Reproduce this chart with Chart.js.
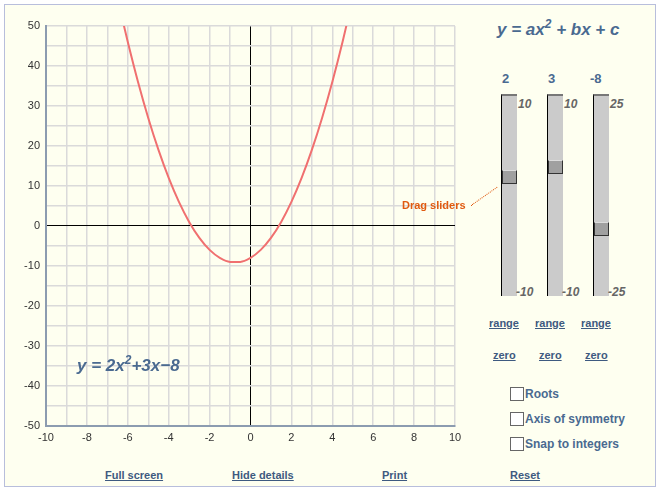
<!DOCTYPE html>
<html><head><meta charset="utf-8">
<script src="https://cdn.jsdelivr.net/npm/chart.js@4"></script>
<style>
body{margin:0;background:#fff;font-family:"Liberation Sans",Arial,sans-serif;}
#wrap{position:absolute;left:4px;top:4px;width:650px;height:481px;background:#fefff0;border:1px solid #b8bedc;}
#c{position:absolute;left:-4px;top:-4px;}
.t{position:absolute;color:#4a6a90;font-weight:bold;white-space:nowrap;}
.lnk{position:absolute;color:#3e5a80;font-weight:bold;font-size:11px;text-decoration:underline;}
.track{position:absolute;width:15px;height:200px;background:#cbcbcb;border-left:1px solid #000;border-top:2px solid #777;}
.handle{position:absolute;width:13px;height:12px;background:#a0a0a0;border:1px solid #333;border-top-color:#ddd;}
.lab{position:absolute;font-style:italic;font-weight:bold;font-size:12px;color:#666;}
.cb{position:absolute;width:12px;height:12px;border:1px solid #666;background:#fff;}
</style></head><body>
<div id="wrap"><canvas id="c" width="470" height="450"></canvas></div>
<script>
const xs=[-6.2,-6,-5.5,-5,-4.5,-4,-3.5,-3,-2.5,-2,-1.5,-1,-0.5,0,0.5,1,1.5,2,2.5,3,3.5,4,4.5,5];
const ys=[50.3,46,36,27,19,12,6,1,-3,-6,-8,-9,-9,-8,-6,-3,1,6,12,19,27,36,46,57];
const coefNames=['a','b','c'];
const coefVals=[2,3,-8];
const coefMax=[10,10,25];
const coefMin=[-10,-10,-25];
const xTicks=[-10,-8,-6,-4,-2,0,2,4,6,8,10];
const yTicks=[-50,-40,-30,-20,-10,0,10,20,30,40,50];

const grid={color:c=>c.tick.value===0?'#000':'#dadada',lineWidth:c=>c.tick.value===0?1:1.5,drawTicks:false};
new Chart(document.getElementById('c'),{
 type:'scatter',
 data:{datasets:[{data:xs.map((x,i)=>({x,y:ys[i]})),showLine:true,borderColor:'#f07070',borderWidth:2,pointRadius:0,cubicInterpolationMode:'monotone',clip:0}]},
 options:{responsive:false,animation:false,
  layout:{padding:{left:5,top:25,right:16,bottom:0}},
  plugins:{legend:{display:false},tooltip:{enabled:false}},
  scales:{
   x:{min:-10,max:10,border:{color:'#8c9cb0',width:2},
      ticks:{stepSize:1,padding:6,color:'#333',font:{size:11,family:'Liberation Sans'},maxRotation:0,autoSkip:false,
        callback:v=>xTicks.includes(v)?String(v):''},grid},
   y:{min:-50,max:50,border:{color:'#8c9cb0',width:2},afterFit:s=>{s.width=40;},
      ticks:{stepSize:5,padding:6,color:'#333',font:{size:11,family:'Liberation Sans'},autoSkip:false,
        callback:v=>yTicks.includes(v)?String(v):''},grid}
  }}
});

const w=document.getElementById('wrap');
function add(cls,html,l,t,extra){const d=document.createElement('div');d.className=cls;d.innerHTML=html;d.style.left=(l-4)+'px';d.style.top=(t-4)+'px';if(extra)Object.assign(d.style,extra);w.appendChild(d);return d;}
add('t','y = 2x<sup style="font-size:12px">2</sup>+3x−8',76,352,{fontSize:'17px',fontStyle:'italic'});
add('t','y = ax<sup style="font-size:12px">2</sup> + bx + c',496,16,{fontSize:'17px',fontStyle:'italic'});
const tx=[500,546,592];
coefVals.forEach((v,i)=>{
 add('t',String(v),tx[i]+(String(v).length>1?-3:1),70,{fontSize:'13px'});
 add('track','',tx[i],93);
 const ty=95+(coefMax[i]-v)/(coefMax[i]-coefMin[i])*200;
 add('handle','',tx[i]+1,ty-6);
 add('lab',String(coefMax[i]),tx[i]+17,96);
 add('lab',String(coefMin[i]),tx[i]+15,284);
 add('lnk','range',tx[i]-12,316);
 add('lnk','zero',tx[i]-8,348);
});
add('t','Drag sliders',401,198,{fontSize:'11px',color:'#e05a10'});
add('','',470,204,{position:'absolute',width:'32px',height:'0',borderTop:'1px dotted #e05a10',transform:'rotate(-35deg)',transformOrigin:'left'});
['Roots','Axis of symmetry','Snap to integers'].forEach((s,i)=>{
 add('cb','',509,386+i*25);
 add('t',s,524,386+i*25,{fontSize:'12px'});
});
[['Full screen',104],['Hide details',231],['Print',381],['Reset',509]].forEach(([s,x])=>add('lnk',s,x,468));
</script></body></html>
